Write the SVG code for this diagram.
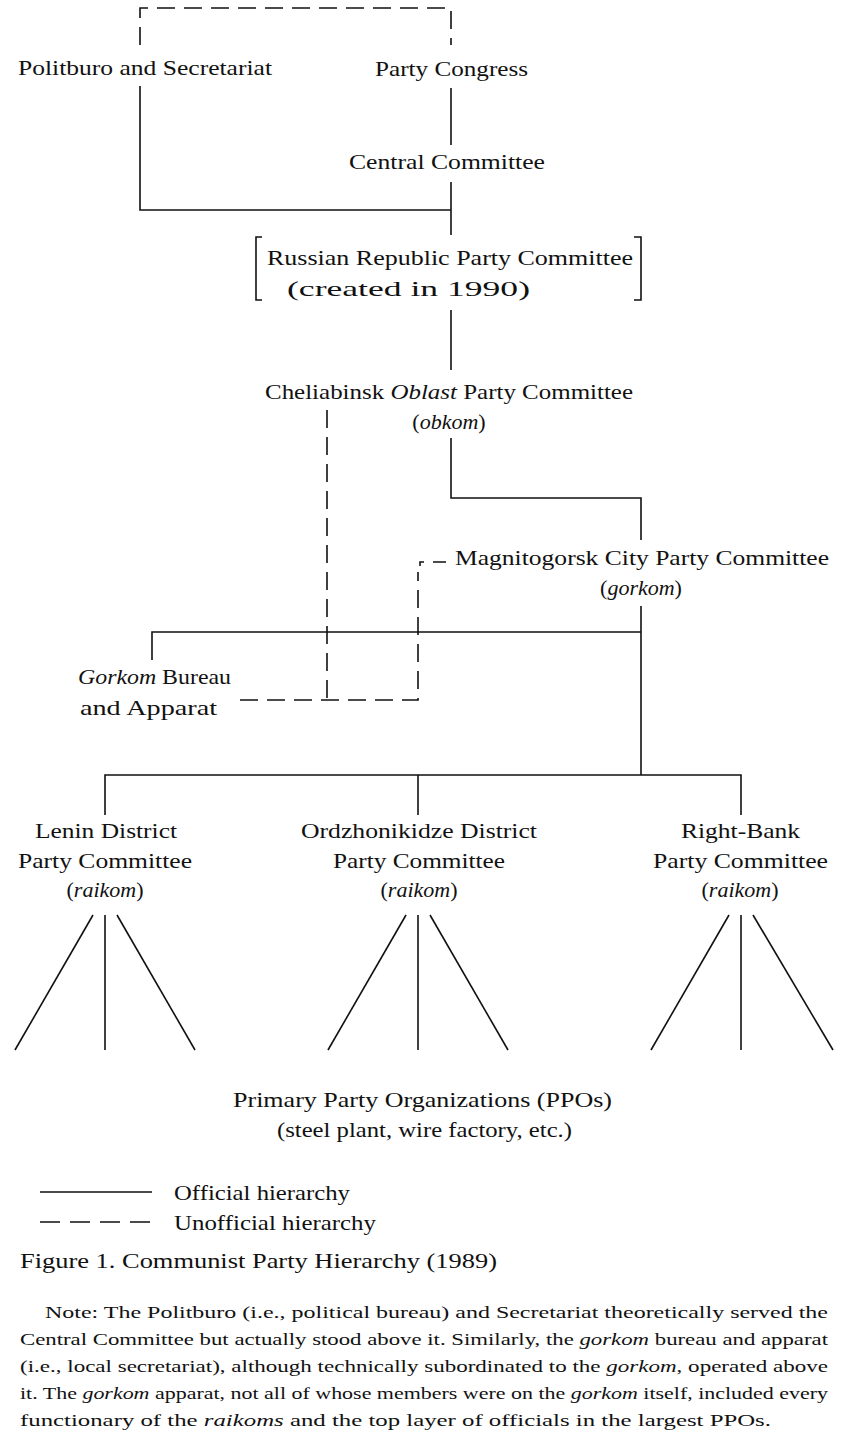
<svg xmlns="http://www.w3.org/2000/svg" width="855" height="1456" viewBox="0 0 855 1456">
<style>
text{font-family:"Liberation Serif","DejaVu Serif",serif;font-size:22px;fill:#111}
.m{text-anchor:middle}
.n{font-size:17px}
line,path{stroke:#111;stroke-width:1.6;fill:none}
.d{stroke-dasharray:18,9}
</style>
<rect width="855" height="1456" fill="#fff"/>
<g id="connectors">
<path class="d" d="M140,45 V8 H451 V45"/>
<path d="M140,86 V210 H451"/>
<line x1="451" y1="88" x2="451" y2="145"/>
<line x1="451" y1="182" x2="451" y2="235"/>
<path d="M262,237 H256 V300 H262"/>
<path d="M634,237 H641 V300 H634"/>
<line x1="451" y1="310" x2="451" y2="370"/>
<path d="M451,438 V498 H641 V540"/>
<line class="d" x1="327" y1="410" x2="327" y2="700"/>
<path class="d" d="M240,700 H418 V572"/>
<path d="M420,566 V562 H424 M433,562 H446"/>
<path d="M641,606 V775"/>
<path d="M152,660 V632 H641"/>
<path d="M105,815 V775 H741 V815"/>
<line x1="418" y1="775" x2="418" y2="815"/>
<line x1="93" y1="915" x2="15" y2="1050"/><line x1="105" y1="915" x2="105" y2="1050"/><line x1="117" y1="915" x2="195" y2="1050"/>
<line x1="406" y1="915" x2="328" y2="1050"/><line x1="418" y1="915" x2="418" y2="1050"/><line x1="430" y1="915" x2="508" y2="1050"/>
<line x1="729" y1="915" x2="651" y2="1050"/><line x1="741" y1="915" x2="741" y2="1050"/><line x1="753" y1="915" x2="833" y2="1050"/>
<line x1="40" y1="1192" x2="152" y2="1192"/>
<line class="d" x1="40" y1="1222" x2="152" y2="1222" style="stroke-dasharray:20,10"/>
</g>
<g id="politburo"><text x="18" y="75" textLength="254" lengthAdjust="spacingAndGlyphs">Politburo and Secretariat</text></g>
<g id="congress"><text x="375" y="76" textLength="153" lengthAdjust="spacingAndGlyphs">Party Congress</text></g>
<g id="cc"><text x="349" y="169" textLength="196" lengthAdjust="spacingAndGlyphs">Central Committee</text></g>
<g id="russian"><text x="267" y="265" textLength="366" lengthAdjust="spacingAndGlyphs">Russian Republic Party Committee</text><text x="287" y="296" textLength="243" lengthAdjust="spacingAndGlyphs">(created in 1990)</text></g>
<g id="obkom"><text x="265" y="399" textLength="368" lengthAdjust="spacingAndGlyphs">Cheliabinsk <tspan font-style="italic">Oblast</tspan> Party Committee</text><text x="449" y="429" class="m">(<tspan font-style="italic">obkom</tspan>)</text></g>
<g id="gorkom"><text x="455" y="565" textLength="374" lengthAdjust="spacingAndGlyphs">Magnitogorsk City Party Committee</text><text x="641" y="595" class="m">(<tspan font-style="italic">gorkom</tspan>)</text></g>
<g id="bureau"><text x="78" y="684" textLength="153" lengthAdjust="spacingAndGlyphs"><tspan font-style="italic">Gorkom</tspan> Bureau</text><text x="80" y="715" textLength="137" lengthAdjust="spacingAndGlyphs">and Apparat</text></g>
<g id="lenin"><text x="35" y="838" textLength="142" lengthAdjust="spacingAndGlyphs">Lenin District</text><text x="18" y="868" textLength="174" lengthAdjust="spacingAndGlyphs">Party Committee</text><text x="105" y="897" class="m">(<tspan font-style="italic">raikom</tspan>)</text></g>
<g id="ordz"><text x="301" y="838" textLength="236" lengthAdjust="spacingAndGlyphs">Ordzhonikidze District</text><text x="333" y="868" textLength="172" lengthAdjust="spacingAndGlyphs">Party Committee</text><text x="419" y="897" class="m">(<tspan font-style="italic">raikom</tspan>)</text></g>
<g id="right"><text x="681" y="838" textLength="119" lengthAdjust="spacingAndGlyphs">Right-Bank</text><text x="653" y="868" textLength="175" lengthAdjust="spacingAndGlyphs">Party Committee</text><text x="740" y="897" class="m">(<tspan font-style="italic">raikom</tspan>)</text></g>
<g id="ppo"><text x="233" y="1107" textLength="379" lengthAdjust="spacingAndGlyphs">Primary Party Organizations (PPOs)</text><text x="277" y="1137" textLength="295" lengthAdjust="spacingAndGlyphs">(steel plant, wire factory, etc.)</text></g>
<g id="legend"><text x="174" y="1200" textLength="176" lengthAdjust="spacingAndGlyphs">Official hierarchy</text><text x="174" y="1230" textLength="202" lengthAdjust="spacingAndGlyphs">Unofficial hierarchy</text></g>
<text x="20" y="1268" textLength="477" lengthAdjust="spacingAndGlyphs">Figure 1.  Communist Party Hierarchy (1989)</text>
<g id="note">
<text class="n" x="45" y="1318" textLength="783" lengthAdjust="spacingAndGlyphs">Note: The Politburo (i.e., political bureau) and Secretariat theoretically served the</text>
<text class="n" x="20" y="1345" textLength="808" lengthAdjust="spacingAndGlyphs">Central Committee but actually stood above it. Similarly, the <tspan font-style="italic">gorkom</tspan> bureau and apparat</text>
<text class="n" x="20" y="1372" textLength="808" lengthAdjust="spacingAndGlyphs">(i.e., local secretariat), although technically subordinated to the <tspan font-style="italic">gorkom</tspan>, operated above</text>
<text class="n" x="20" y="1399" textLength="808" lengthAdjust="spacingAndGlyphs">it. The <tspan font-style="italic">gorkom</tspan> apparat, not all of whose members were on the <tspan font-style="italic">gorkom</tspan> itself, included every</text>
<text class="n" x="20" y="1426" textLength="751" lengthAdjust="spacingAndGlyphs">functionary of the <tspan font-style="italic">raikoms</tspan> and the top layer of officials in the largest PPOs.</text>
</g>
</svg>
